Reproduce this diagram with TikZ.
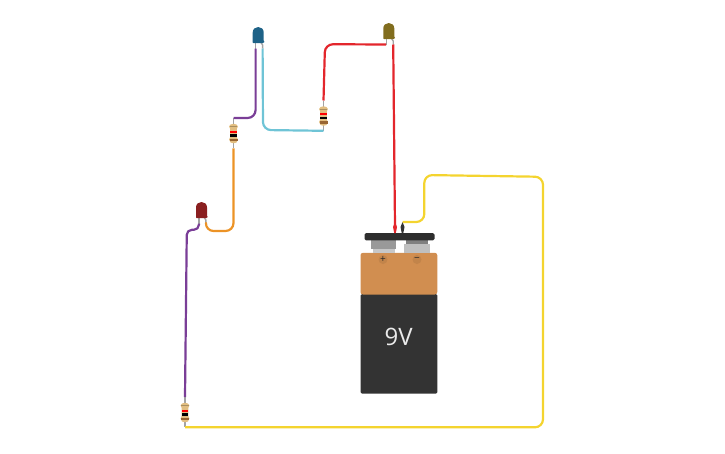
\documentclass[tikz,border=0pt]{standalone}
\usepackage{fontspec}
\newfontfamily\labelfont{Open Sans}
\definecolor{wpurple}{HTML}{7A3E97}
\definecolor{wcyan}{HTML}{6FC4D6}
\definecolor{wred}{HTML}{E3262C}
\definecolor{wyellow}{HTML}{F4D42F}
\definecolor{worange}{HTML}{EC9326}
\definecolor{lead}{HTML}{A3A3A3}
\definecolor{rbody}{HTML}{E2BE80}
\definecolor{ledblue}{HTML}{1E6287}
\definecolor{ledolive}{HTML}{816D1E}
\definecolor{ledred}{HTML}{8A1F20}
\definecolor{batorange}{HTML}{D18E50}
\definecolor{batdark}{HTML}{333333}
\tikzset{
  wire/.style={line width=2.2pt,rounded corners=8pt,line join=round},
  leadline/.style={draw=lead,line width=1.4pt},
  resistor/.pic={
    \coordinate (-t) at (0,-16);
    \coordinate (-b) at (0,14.3);
    \draw[leadline] (-t) -- (-b);
    \fill[rbody] (-3,-9.5) .. controls (-1.5,-10.5) and (1.5,-10.5) .. (3,-9.5)
       -- (4.4,-7.5) -- (3.3,-5) -- (3.3,3) -- (4.4,5.5) -- (3,8.5)
       .. controls (1.5,9.5) and (-1.5,9.5) .. (-3,8.5) -- (-4.4,5.5) -- (-3.3,3) -- (-3.3,-5) -- (-4.4,-7.5) -- cycle;
    \fill[rbody!75!black] (-3.6,-7.6) rectangle (3.6,-6.8);
    \fill[red] (-3.3,-3.4) rectangle (3.3,-1.2);
    \fill[black] (-3.3,0.3) rectangle (3.3,2.6);
    \fill[brown!80!black] (-4,4.6) rectangle (4,7.2);
  },
  led/.pic={
    \coordinate (-a) at (-2.6,13.5);
    \coordinate (-c) at (4.4,13.5);
    \draw[leadline] (-2.6,7) -- (-a);
    \draw[leadline] (2.4,7) -- (4.4,10) -- (-c);
    \fill[pic actions] (-5.5,7.5) -- (-5.5,-2.5) .. controls (-5.5,-6) and (-3,-8) .. (0,-8)
      .. controls (3,-8) and (5.5,-6) .. (5.5,-2.5) -- (5.5,5.5) -- (6.2,7) -- (4.5,8.2) -- (-4.5,8.2) -- cycle;
  }
}
\begin{document}
\begin{tikzpicture}[x=1pt,y=-1pt]
\useasboundingbox (0,0) rectangle (725,453);
% components
\pic (ledb) [ledblue,fill=ledblue] at (258.2,35) {led};
\pic (ledo) [ledolive,fill=ledolive] at (388.8,31) {led};
\pic (ledr) [ledred,fill=ledred] at (201.5,210) {led};
\pic (rone) at (185,413) {resistor};
\pic (rtwo) at (233.5,134) {resistor};
\pic (rthree) at (323.5,116.5) {resistor};
% battery
\fill[batdark,rounded corners=1.5pt] (360.5,294) rectangle (437.3,393.7);
\fill[batorange,rounded corners=2.5pt] (360.5,294.5) -- (360.5,252.8) -- (437.3,252.8) -- (437.3,294.5) -- cycle;
\fill[black!40] (370.5,240) rectangle (396.3,248.5);
\fill[black!22] (372.5,248.5) rectangle (394.8,252.8);
\fill[black!50] (405.8,240) rectangle (428,243.5);
\fill[black!25] (404,243.5) rectangle (430,252.8);
\fill[black!82,rounded corners=1.5pt] (364.5,233.2) rectangle (434.6,240.3);
\fill[batorange!93!black] (383,259.5) circle (4.5);
\fill[batorange!93!black] (417,259.5) circle (4.5);
\node[font=\labelfont\fontsize{10}{10}\selectfont,text=black!85,inner sep=0pt] (plus) at (383,259.5) {+};
\node[font=\labelfont\fontsize{10}{10}\selectfont,text=black!85,inner sep=0pt] (minus) at (417,259.5) {−};
\node[font=\labelfont\fontsize{24}{24}\selectfont,text=black!8,inner sep=0pt] (volt) at (398.6,337.3) {9V};
% terminals
\coordinate (tplus) at (395,226);
\coordinate (tminus) at (402.5,222);
\fill[wred] (395,222) -- (397,227) -- (395.8,233) -- (394.2,233) -- (393,227) -- cycle;
\fill[batdark] (402.5,222) -- (404.5,227) -- (403.3,233) -- (401.7,233) -- (400.5,227) -- cycle;
% waypoints
\coordinate (p1) at (325,44.2);
\coordinate (p2) at (424.3,175);
\coordinate (p3) at (543,176.8);
\coordinate (p4) at (543,427.3);
\coordinate (p6) at (424.3,222);
\coordinate (p7) at (186.8,229.8);
\coordinate (p7b) at (198.9,229.8);
\coordinate (p8) at (263,130);
\coordinate (p9) at (205.6,231);
\coordinate (p10) at (233.5,231);
% wires
\draw[wire,wpurple] (ledb-a) -- (ledb-a |- rtwo-t) -- (rtwo-t);
\draw[wire,worange] (rtwo-b) -- (p10) -- (p9) -- (ledr-c);
\draw[wire,wpurple,rounded corners=5pt] (ledr-a) -- (p7b) -- (p7) -- (rone-t);
\draw[wire,wcyan] (ledb-c) -- (p8) -- (rthree-b);
\draw[wire,wred] (rthree-t) -- (p1) -- (ledo-a);
\draw[wire,wred] (ledo-c) -- (tplus);
\draw[wire,wyellow] (tminus) -- (p6) -- (p2) -- (p3) -- (p4) -- (rone-b);
\end{tikzpicture}
\end{document}
